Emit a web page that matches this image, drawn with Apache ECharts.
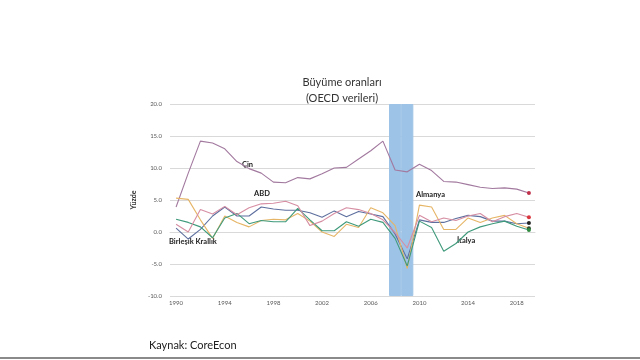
<!DOCTYPE html>
<html>
<head>
<meta charset="utf-8">
<script src="https://cdn.jsdelivr.net/npm/echarts@6/dist/echarts.min.js"></script>
<style>html,body{margin:0;padding:0;background:#fff}#c{width:640px;height:360px}</style>
</head>
<body>
<div id="c"></div>
<script>
const years = ['1990','1991','1992','1993','1994','1995','1996','1997','1998','1999','2000','2001','2002','2003','2004','2005','2006','2007','2008','2009','2010','2011','2012','2013','2014','2015','2016','2017','2018','2019'];
const cin     = [3.9, 9.2, 14.2, 13.9, 13.0, 11.0, 9.9, 9.2, 7.8, 7.7, 8.5, 8.3, 9.1, 10.0, 10.1, 11.4, 12.7, 14.2, 9.7, 9.4, 10.6, 9.6, 7.9, 7.8, 7.4, 7.0, 6.8, 6.9, 6.7, 6.1];
const abd     = [1.2, 0.0, 3.5, 2.8, 4.0, 2.7, 3.8, 4.4, 4.5, 4.8, 4.1, 1.0, 1.7, 2.9, 3.8, 3.5, 2.9, 1.9, -0.1, -2.5, 2.6, 1.6, 2.2, 1.8, 2.5, 2.9, 1.6, 2.4, 2.9, 2.3];
const almanya = [5.3, 5.1, 1.9, -1.0, 2.5, 1.5, 0.8, 1.8, 2.0, 1.9, 2.9, 1.7, 0.0, -0.7, 1.2, 0.7, 3.8, 3.0, 1.0, -5.7, 4.2, 3.9, 0.4, 0.4, 2.2, 1.5, 2.2, 2.6, 1.3, 0.6];
const italya  = [2.0, 1.5, 0.8, -0.9, 2.2, 2.9, 1.3, 1.8, 1.6, 1.6, 3.7, 1.9, 0.2, 0.2, 1.6, 0.9, 2.0, 1.5, -1.0, -5.3, 1.7, 0.7, -3.0, -1.8, 0.0, 0.8, 1.3, 1.7, 0.9, 0.3];
const ingiltere = [0.6, -1.1, 0.4, 2.5, 3.9, 2.5, 2.5, 3.9, 3.6, 3.4, 3.4, 3.0, 2.3, 3.3, 2.4, 3.2, 2.8, 2.4, -0.3, -4.2, 1.9, 1.5, 1.5, 2.1, 2.6, 2.4, 1.7, 1.7, 1.3, 1.4];
const shadedYears = ['2008', '2009'];
const yTicks = { min: -10, max: 20, interval: 5 };

const shadeTop = years.map(y => shadedYears.includes(y) ? yTicks.max : '-');
const shadeBottom = years.map(y => shadedYears.includes(y) ? yTicks.min : '-');

function withEndMarker(arr, color) {
  return arr.map((v, i) => i === arr.length - 1
    ? { value: v, symbol: 'circle', symbolSize: 4, itemStyle: { color: color } }
    : v);
}

function lineSeries(name, arr, color, endColor) {
  return {
    name: name, type: 'line', data: withEndMarker(arr, endColor),
    symbol: 'none', smooth: false, z: 3,
    lineStyle: { color: color, width: 1.1 },
    itemStyle: { color: color },
    emphasis: { disabled: true }
  };
}

const shadeStyle = { color: '#9dc3e6', borderColor: '#9dc3e6', borderWidth: 1 };

const chart = echarts.init(document.getElementById('c'));
chart.setOption({
  animation: false,
  backgroundColor: '#ffffff',
  title: {
    text: 'Büyüme oranları\n(OECD verileri)',
    left: 337, top: 69, textAlign: 'center',
    textStyle: { fontFamily: 'Lato', fontSize: 11, fontWeight: 'normal', color: '#333333', lineHeight: 16 }
  },
  grid: { left: 170, right: 105, top: 104, bottom: 64 },
  xAxis: {
    type: 'category', data: years, boundaryGap: true,
    axisLine: { show: true, lineStyle: { color: '#d9d9d9' } },
    axisTick: { show: false },
    axisLabel: { interval: 3, fontSize: 6, color: '#595959', margin: 4, fontFamily: 'Lato' }
  },
  yAxis: {
    type: 'value', min: yTicks.min, max: yTicks.max, interval: yTicks.interval,
    name: 'Yüzde', nameLocation: 'middle', nameGap: 23, nameRotate: 90,
    nameTextStyle: { fontSize: 7, color: '#333333', fontFamily: 'Lato', fontWeight: 'bold' },
    axisLine: { show: false }, axisTick: { show: false },
    axisLabel: { fontSize: 6, color: '#595959', margin: 8, fontFamily: 'Lato', formatter: v => v.toFixed(1) },
    splitLine: { lineStyle: { color: '#d9d9d9', width: 1 } }
  },
  series: [
    { name: 'kriz', type: 'bar', stack: 'kriz', data: shadeTop, barCategoryGap: '0%', barWidth: '100%', z: 1,
      itemStyle: shadeStyle, emphasis: { disabled: true } },
    { name: 'kriz2', type: 'bar', stack: 'kriz', data: shadeBottom, barCategoryGap: '0%', barWidth: '100%', z: 1,
      itemStyle: shadeStyle, emphasis: { disabled: true } },
    lineSeries('Çin', cin, '#a2799f', '#c0304a'),
    lineSeries('Birleşik Krallık', ingiltere, '#5d6f9e', '#222222'),
    lineSeries('Almanya', almanya, '#e6b566', '#2f4a30'),
    lineSeries('İtalya', italya, '#3f9a7c', '#2e8b3e'),
    lineSeries('ABD', abd, '#d68ea3', '#d9363e')
  ],
  graphic: [
    { type: 'text', left: 242, top: 161, style: { text: 'Çin', font: 'bold 7.5px Lato', fill: '#222' } },
    { type: 'text', left: 254, top: 190, style: { text: 'ABD', font: 'bold 7.5px Lato', fill: '#222' } },
    { type: 'text', left: 416, top: 191, style: { text: 'Almanya', font: 'bold 7.5px Lato', fill: '#222' } },
    { type: 'text', left: 457, top: 237, style: { text: 'İtalya', font: 'bold 7.5px Lato', fill: '#222' } },
    { type: 'text', left: 169, top: 238, style: { text: 'Birleşik Krallık', font: 'bold 7.5px Lato', fill: '#222' } },
    { type: 'text', left: 149, top: 340, style: { text: 'Kaynak: CoreEcon', font: '11px Lato', fill: '#222' } },
    { type: 'rect', shape: { x: 0, y: 357, width: 640, height: 2 }, style: { fill: '#8a8a8a' } }
  ]
});
</script>
</body>
</html>
